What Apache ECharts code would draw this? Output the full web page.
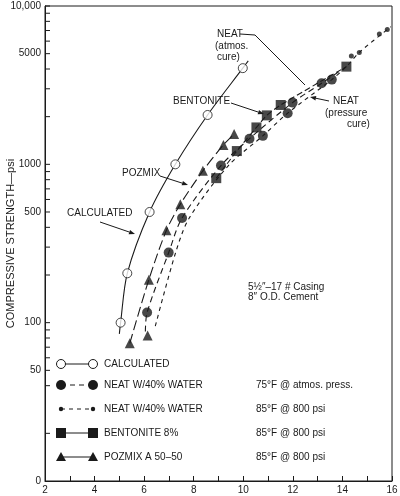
<!DOCTYPE html>
<html>
<head>
<meta charset="utf-8">
<script src="https://cdn.jsdelivr.net/npm/echarts@6/dist/echarts.min.js"></script>
<style>
  html, body { margin: 0; padding: 0; background: #fff; }
  #chart { width: 400px; height: 496px; }
</style>
</head>
<body>
<div id="chart"></div>
<script>
// 读图得到的数据 (x: 横轴, y: psi)
var calcPoints = [[5.05, 100], [5.32, 205], [6.22, 500], [7.26, 1000], [8.56, 2050], [9.98, 4050]];
var calcCurve = [[5.0, 85], [5.05, 100], [5.32, 205], [6.22, 500], [7.26, 1000], [8.56, 2050], [9.98, 4050], [10.2, 4500]];

var neatAtmosPoints = [[6.12, 116], [6.99, 277], [7.53, 458], [9.10, 982], [10.25, 1452], [10.79, 1513],
                       [11.79, 2104], [11.99, 2454], [13.16, 3250], [13.57, 3428]];
var neatAtmosCurve = [[6.05, 88], [6.12, 116], [6.99, 277], [7.53, 458], [9.10, 982], [10.25, 1452],
                      [11.99, 2454], [13.16, 3250], [14.16, 4140]];

var neatPressPoints = [[14.36, 4840], [14.68, 5090], [15.49, 6650], [15.81, 7110]];
var neatPressCurve = [[6.45, 95], [7.27, 277], [7.82, 458], [9.4, 982], [10.79, 1513], [11.79, 2104],
                      [13.57, 3428], [14.16, 4140], [14.68, 5090], [15.81, 7110], [15.95, 7400]];

var bentPoints = [[8.91, 818], [9.74, 1213], [10.53, 1710], [10.95, 2038], [11.51, 2371], [14.16, 4140]];
var bentCurve = [[8.91, 818], [9.74, 1213], [10.53, 1710], [10.95, 2038], [11.51, 2371], [14.16, 4140]];

var pozPoints = [[5.42, 74], [6.14, 83], [6.19, 187], [6.90, 383], [7.46, 560], [8.37, 910], [9.20, 1327], [9.63, 1556]];
var pozCurve = [[5.42, 74], [6.19, 187], [6.90, 383], [7.46, 560], [8.37, 910], [9.20, 1327], [9.63, 1556]];

// y 轴刻度
var yTickValues = [20, 40, 50, 60, 70, 80, 90, 100, 200, 300, 400, 500, 600, 700, 800, 900,
                   1000, 2000, 3000, 4000, 5000, 6000, 7000, 8000, 9000, 10000];
var yLabelValues = [10, 50, 100, 500, 1000, 5000, 10000];
var yLabelTexts = ['0', '50', '100', '500', '1000', '5000', '10,000'];

// 图例文字
var legendNames = ['CALCULATED', 'NEAT W/40% WATER', 'NEAT W/40% WATER', 'BENTONITE 8%', 'POZMIX A 50\u201350'];
var legendConds = ['', '75\u00b0F @ atmos. press.', '85\u00b0F @ 800 psi', '85\u00b0F @ 800 psi', '85\u00b0F @ 800 psi'];

var FONT = '10px "Liberation Sans", Arial, sans-serif';
var INK = '#1a1a1a';

var chart = echarts.init(document.getElementById('chart'));

function txt(x, y, s, align) {
    return { type: 'text', x: x, y: y, style: { text: s, font: FONT, fill: INK, align: align || 'left', verticalAlign: 'middle' } };
}
function seg(x1, y1, x2, y2, dash) {
    return { type: 'line', shape: { x1: x1, y1: y1, x2: x2, y2: y2 }, style: { stroke: INK, lineWidth: 1, lineDash: dash || null } };
}
function arrow(x1, y1, x2, y2) {
    var a = Math.atan2(y2 - y1, x2 - x1), L = 6, W = 2.2;
    var bx = x2 - L * Math.cos(a), by = y2 - L * Math.sin(a);
    return [seg(x1, y1, bx, by), {
        type: 'polygon',
        shape: { points: [[x2, y2], [bx - W * Math.sin(a), by + W * Math.cos(a)], [bx + W * Math.sin(a), by - W * Math.cos(a)]] },
        style: { fill: INK }
    }];
}

// 图例标记
function legendMark(i, x, y) {
    if (i === 0) return { type: 'circle', shape: { cx: x, cy: y, r: 4.5 }, style: { fill: '#fff', stroke: INK, lineWidth: 1 } };
    if (i === 1) return { type: 'circle', shape: { cx: x, cy: y, r: 5 }, style: { fill: INK } };
    if (i === 2) return { type: 'circle', shape: { cx: x, cy: y, r: 2.2 }, style: { fill: INK } };
    if (i === 3) return { type: 'rect', shape: { x: x - 5, y: y - 5, width: 10, height: 10 }, style: { fill: INK } };
    return { type: 'polygon', shape: { points: [[x, y - 5], [x - 5, y + 4], [x + 5, y + 4]] }, style: { fill: INK } };
}

var rowY = [364, 385, 409, 433, 457];
var rowDash = [null, [5, 4], [4, 4], null, null];
var graphics = [];
for (var i = 0; i < 5; i++) {
    graphics.push(seg(61, rowY[i], 93, rowY[i], rowDash[i]));
    graphics.push(legendMark(i, 61, rowY[i]));
    graphics.push(legendMark(i, 93, rowY[i]));
    graphics.push(txt(104, rowY[i], legendNames[i]));
    if (legendConds[i]) graphics.push(txt(256, rowY[i], legendConds[i]));
}

// 注释
graphics.push(txt(67, 213, 'CALCULATED'));
graphics = graphics.concat(arrow(100, 222, 135, 234));
graphics.push(txt(122, 173, 'POZMIX'));
graphics = graphics.concat(arrow(160, 176, 188, 185));
graphics.push(txt(173, 101, 'BENTONITE'));
graphics = graphics.concat(arrow(231, 103, 264, 114));
graphics.push(txt(217, 34, 'NEAT'));
graphics.push(txt(215, 46, '(atmos.'));
graphics.push(txt(217, 57, 'cure)'));
graphics.push(seg(240, 34, 255, 35));
graphics.push(seg(255, 35, 305, 85));
graphics.push(txt(333, 101, 'NEAT'));
graphics.push(txt(325, 113, '(pressure'));
graphics.push(txt(347, 124, 'cure)'));
graphics = graphics.concat(arrow(329, 101, 310, 97));
graphics.push(txt(248, 287, '5\u00bd\u2033\u201317 # Casing'));
graphics.push(txt(248, 297, '8\u2033 O.D. Cement'));

function curve(data, dash) {
    return {
        type: 'line', data: data, smooth: 0.3, symbol: 'none', silent: true, z: 2,
        lineStyle: { color: INK, width: 1.1, type: dash }
    };
}
function marks(data, symbol, size, filled) {
    return {
        type: 'scatter', data: data, symbol: symbol, symbolSize: size, z: 3,
        itemStyle: filled ? { color: INK } : { color: '#fff', borderColor: INK, borderWidth: 1 }
    };
}

var option = {
    animation: false,
    backgroundColor: '#fff',
    grid: {
        left: 45, right: 8, top: 6, bottom: 15,
        containLabel: false, outerBoundsMode: 'none',
        show: true, borderColor: INK, borderWidth: 1
    },
    xAxis: {
        type: 'value', min: 2, max: 16, interval: 1,
        axisLine: { lineStyle: { color: INK, width: 1 } },
        axisTick: { inside: true, length: 5, lineStyle: { color: INK } },
        axisLabel: {
            margin: 4, fontSize: 10, color: INK, fontFamily: 'Liberation Sans',
            formatter: function (v) { return v % 2 === 0 ? String(v) : ''; }
        },
        splitLine: { show: false }
    },
    yAxis: {
        type: 'log', min: 10, max: 10000,
        name: 'COMPRESSIVE STRENGTH\u2014psi', nameLocation: 'middle', nameGap: 29,
        nameTextStyle: { fontSize: 11, color: INK, fontFamily: 'Liberation Sans' },
        axisLine: { show: true, lineStyle: { color: INK, width: 1 } },
        axisTick: { show: false }, axisLabel: { show: false }, splitLine: { show: false }
    },
    graphic: graphics,
    series: [
        // y 轴刻度线
        {
            type: 'custom', clip: false, silent: true, z: 4,
            data: yTickValues.map(function (v) { return [2, v]; }),
            renderItem: function (params, api) {
                var p = api.coord([2, api.value(1)]);
                return { type: 'line', shape: { x1: p[0], y1: p[1], x2: p[0] + 5, y2: p[1] }, style: { stroke: INK, lineWidth: 1 } };
            }
        },
        // y 轴标签
        {
            type: 'custom', clip: false, silent: true, z: 4,
            data: yLabelValues.map(function (v) { return [2, v]; }),
            renderItem: function (params, api) {
                var p = api.coord([2, api.value(1)]);
                return { type: 'text', x: p[0] - 4, y: p[1], style: { text: yLabelTexts[params.dataIndex], font: FONT, fill: INK, align: 'right', verticalAlign: 'middle' } };
            }
        },
        curve(calcCurve, 'solid'),
        curve(neatAtmosCurve, [6, 4]),
        curve(neatPressCurve, [4, 4]),
        curve(bentCurve, [6, 3]),
        curve(pozCurve, [10, 4]),
        marks(calcPoints, 'circle', 9, false),
        marks(neatAtmosPoints, 'circle', 10, true),
        marks(neatPressPoints, 'circle', 5, true),
        marks(bentPoints, 'rect', 10, true),
        marks(pozPoints, 'triangle', 10, true)
    ]
};

chart.setOption(option);
</script>
</body>
</html>
